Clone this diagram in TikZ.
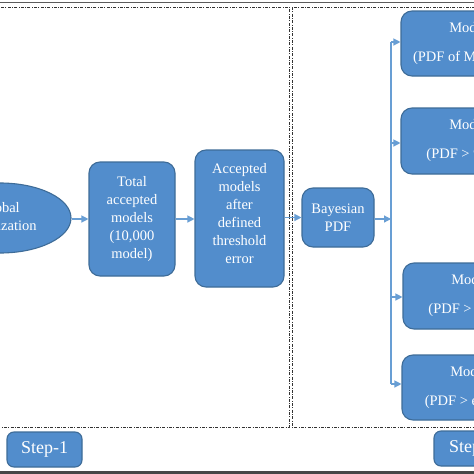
\documentclass[tikz,border=0pt]{standalone}
\usepackage{fontspec}
\setmainfont{Liberation Serif}
\usetikzlibrary{shapes.geometric,arrows.meta}
\definecolor{boxfill}{RGB}{82,141,204}
\definecolor{boxline}{RGB}{62,108,152}
\definecolor{arrowblue}{RGB}{104,158,212}
\definecolor{frameline}{RGB}{50,50,50}
\tikzset{
  blk/.style={draw=boxline, line width=1.1pt, fill=boxfill, text=white, rounded corners=11pt, inner sep=0pt, align=center, font=\fontsize{14.5}{18}\selectfont},
  oval/.style={ellipse, draw=boxline, line width=1.1pt, fill=boxfill, text=white, inner sep=0pt, align=center, font=\fontsize{14.5}{18}\selectfont},
  stepbox/.style={blk, rounded corners=7pt, font=\fontsize{18}{21}\selectfont},
  conn/.style={draw=arrowblue, line width=1.2pt, -{Triangle[length=7pt,width=7pt]}},
  trunkline/.style={draw=arrowblue, line width=1.2pt},
  frame/.style={draw=frameline, line width=0.8pt, dash pattern=on 3pt off 1.4pt on 0.8pt off 1.4pt}
}
\begin{document}
\begin{tikzpicture}[x=1pt, y=-1pt]
\useasboundingbox (0,0) rectangle (474,474);
\clip (0,0) rectangle (474,474);
\fill[white] (0,0) rectangle (474,474);
% frames
\draw[frame] (-5,7) rectangle (289,427);
\draw[frame] (292,7) rectangle (485,427);
\draw[draw=frameline!80, line width=1.5pt] (-5,2.5) -- (480,2.5);
\draw[draw=frameline!90, line width=3pt] (-5,472.5) -- (480,472.5);
% nodes
\node[oval, minimum width=142pt, minimum height=70pt] (glob) at (0,218) {Global\\optimization};
\node[blk, minimum width=86pt, minimum height=114pt] (tot) at (132,219) {Total\\accepted\\models\\(10,000\\model)};
\node[blk, minimum width=89pt, minimum height=137pt] (acc) at (239.5,218.5) {Accepted\\models\\after\\defined\\threshold\\error\\[-8pt]\mbox{}};
\node[blk, minimum width=72pt, minimum height=59pt] (bay) at (338,217.5) {Bayesian\\PDF};
\node[blk, minimum width=140pt, minimum height=65pt] (m1) at (471,43.5) {Models\\[11pt](PDF of Maximum)};
\node[blk, minimum width=140pt, minimum height=66pt] (m2) at (471,141) {Models\\[11pt](PDF > 90.0\%)};
\node[blk, minimum width=140pt, minimum height=66pt] (m3) at (473,296) {Models\\[11pt](PDF > 75.0\%)};
\node[blk, minimum width=140pt, minimum height=65pt] (m4) at (472,387.5) {Models\\[11pt](PDF > exp(-1))};
\node[stepbox, minimum width=75pt, minimum height=35pt] (s1) at (44.5,449.5) {Step-1};
\node[stepbox, minimum width=77pt, minimum height=35pt] (s2) at (472.5,448.5) {Step-2};
% trunk coordinates
\coordinate (t1) at (391,42);
\coordinate (t2) at (391,143);
\coordinate (tb) at (391,219);
\coordinate (t3) at (391,297);
\coordinate (t4) at (391,384);
% connectors
\draw[conn] (glob.east |- tot.west) -- (tot.west);
\draw[conn] (tot.east) -- (tot.east -| acc.west);
\draw[conn] (acc.east |- bay.west) -- (bay.west);
\draw[conn] (bay.east |- tb) -- (tb);
\draw[trunkline] (t1) -- (t4);
\draw[conn] (t1) -- (t1 -| m1.west);
\draw[conn] (t2) -- (t2 -| m2.west);
\draw[conn] (t3) -- (t3 -| m3.west);
\draw[conn] (t4) -- (t4 -| m4.west);
\end{tikzpicture}
\end{document}
